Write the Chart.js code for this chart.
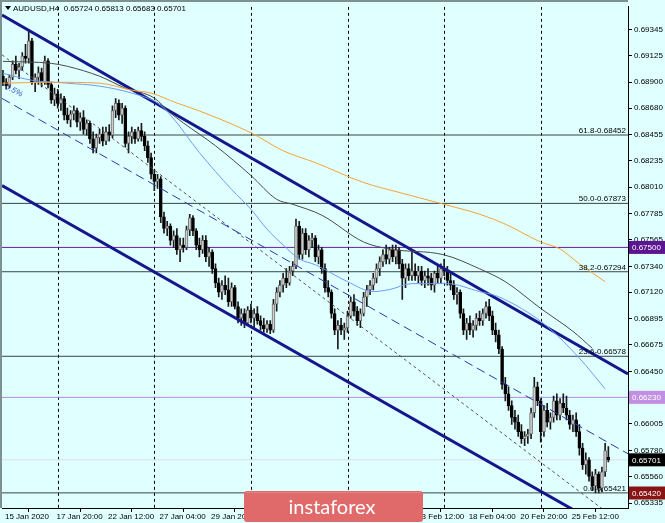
<!DOCTYPE html>
<html lang="en">
<head>
<meta charset="UTF-8">
<title>AUDUSD H4</title>
<script src="https://cdn.jsdelivr.net/npm/chart.js"></script>
<style>
    body { margin: 0; background: #e0ffff; overflow: hidden; }
    canvas { display: block; }
</style>
</head>
<body>
<canvas id="chart" width="665" height="523"></canvas>
<script>
// H4 bars, index 0 = 15 Jan 2020 04:00, last = 27 Feb 2020 12:00
const opens = [
    .6895,.6890,.6887,.6894,.6905,.6900,.6903,.6912,.6910,.6925,
    .6890,.6894,.6898,.6890,.6908,.6888,.6875,.6880,.6872,.6876,
    .6862,.6858,.6863,.6866,.6856,.6860,.6850,.6855,.6842,.6834,
    .6843,.6846,.6840,.6848,.6845,.6866,.6872,.6862,.6868,.6838,
    .6844,.6848,.6842,.6849,.6844,.6836,.6826,.6812,.6806,.6808,
    .6776,.6766,.6768,.6756,.6760,.6748,.6752,.6750,.6765,.6775,
    .6764,.6752,.6748,.6756,.6742,.6746,.6732,.6720,.6712,.6718,
    .6714,.6704,.6716,.6700,.6690,.6694,.6686,.6697,.6690,.6694,
    .6688,.6684,.6681,.6685,.6680,.6702,.6712,.6718,.6724,.6720,
    .6730,.6734,.6768,.6744,.6762,.6748,.6756,.6758,.6742,.6748,
    .6732,.6716,.6712,.6694,.6680,.6684,.6680,.6682,.6692,.6704,
    .6696,.6688,.6694,.6708,.6714,.6718,.6724,.6732,.6738,.6744,
    .6740,.6748,.6742,.6748,.6736,.6724,.6732,.6726,.6730,.6726,
    .6730,.6722,.6726,.6724,.6718,.6728,.6724,.6732,.6730,.6722,
    .6718,.6710,.6712,.6694,.6680,.6686,.6680,.6684,.6690,.6688,
    .6694,.6700,.6692,.6680,.6676,.6664,.6634,.6626,.6616,.6606,
    .6602,.6594,.6588,.6590,.6592,.6610,.6632,.6620,.6594,.6612,
    .6602,.6606,.6620,.6608,.6618,.6614,.6608,.6600,.6604,.6594,
    .6580,.6566,.6570,.6556,.6548,.6558,.6546,.6560,.65724
];
const highs = [
    .6900,.6893,.6896,.6908,.6912,.6906,.6915,.6922,.6934,.6927,
    .6897,.6903,.6902,.6912,.6910,.6890,.6885,.6884,.6880,.6878,
    .6868,.6866,.6870,.6868,.6864,.6866,.6858,.6857,.6848,.6846,
    .6850,.6852,.6852,.6854,.6870,.6876,.6875,.6872,.6870,.6848,
    .6852,.6850,.6852,.6855,.6848,.6840,.6830,.6816,.6812,.6810,
    .6780,.6772,.6770,.6764,.6766,.6758,.6758,.6768,.6778,.6777,
    .6766,.6758,.6760,.6760,.6750,.6748,.6736,.6724,.6722,.6726,
    .6724,.6720,.6718,.6704,.6698,.6698,.6700,.6702,.6698,.6700,
    .6692,.6690,.6688,.6688,.6706,.6716,.6722,.6728,.6732,.6734,
    .6738,.6774,.6772,.6766,.6766,.6760,.6762,.6760,.6752,.6750,
    .6736,.6722,.6714,.6698,.6688,.6690,.6686,.6696,.6708,.6710,
    .6700,.6698,.6712,.6718,.6722,.6728,.6736,.6742,.6748,.6752,
    .6750,.6752,.6752,.6750,.6740,.6736,.6736,.6746,.6736,.6734,
    .6734,.6730,.6732,.6728,.6730,.6734,.6736,.6740,.6734,.6728,
    .6722,.6716,.6714,.6698,.6690,.6692,.6688,.6694,.6696,.6698,
    .6704,.6706,.6696,.6686,.6680,.6666,.6640,.6632,.6620,.6612,
    .6608,.6600,.6594,.6596,.6614,.6640,.6636,.6622,.6616,.6618,
    .6610,.6624,.6626,.6622,.6626,.6624,.6612,.6608,.6610,.6600,
    .6584,.6576,.6572,.6560,.6562,.6560,.6564,.6584,.65813
];
const lows = [
    .6887,.6884,.6885,.6892,.6897,.6893,.6900,.6906,.6906,.6888,
    .6882,.6888,.6886,.6888,.6885,.6872,.6870,.6868,.6866,.6858,
    .6855,.6852,.6858,.6852,.6849,.6846,.6845,.6838,.6830,.6830,
    .6838,.6836,.6837,.6840,.6843,.6860,.6858,.6855,.6835,.6830,
    .6838,.6838,.6840,.6840,.6832,.6822,.6808,.6798,.6800,.6771,
    .6762,.6760,.6752,.6750,.6744,.6738,.6746,.6748,.6760,.6760,
    .6748,.6742,.6745,.6738,.6734,.6728,.6716,.6708,.6706,.6710,
    .6700,.6700,.6698,.6686,.6684,.6682,.6684,.6686,.6682,.6685,
    .6680,.6678,.6678,.6677,.6678,.6696,.6708,.6712,.6716,.6718,
    .6726,.6732,.6740,.6740,.6744,.6742,.6750,.6738,.6736,.6728,
    .6712,.6708,.6690,.6676,.6664,.6676,.6672,.6678,.6690,.6692,
    .6684,.6682,.6692,.6700,.6710,.6714,.6720,.6726,.6734,.6736,
    .6736,.6738,.6736,.6732,.6706,.6716,.6722,.6722,.6722,.6720,
    .6718,.6716,.6718,.6714,.6712,.6720,.6720,.6726,.6718,.6714,
    .6706,.6702,.6690,.6676,.6672,.6676,.6674,.6680,.6684,.6684,
    .6690,.6688,.6676,.6670,.6660,.6630,.6620,.6612,.6600,.6596,
    .6590,.6584,.6582,.6584,.6588,.6606,.6616,.6585,.6590,.6598,
    .6596,.6602,.6604,.6604,.6610,.6604,.6596,.6594,.6590,.6574,
    .6562,.6558,.6552,.6544,.65421,.6542,.6543,.6556,.65683
];
const closes = [
    .6890,.6887,.6894,.6905,.6900,.6903,.6912,.6910,.6925,.6890,
    .6894,.6898,.6890,.6908,.6888,.6875,.6880,.6872,.6876,.6862,
    .6858,.6863,.6866,.6856,.6860,.6850,.6855,.6842,.6834,.6843,
    .6846,.6840,.6848,.6845,.6866,.6872,.6862,.6868,.6838,.6844,
    .6848,.6842,.6849,.6844,.6836,.6826,.6812,.6806,.6808,.6776,
    .6766,.6768,.6756,.6760,.6748,.6752,.6750,.6765,.6775,.6764,
    .6752,.6748,.6756,.6742,.6746,.6732,.6720,.6712,.6718,.6714,
    .6704,.6716,.6700,.6690,.6694,.6686,.6697,.6690,.6694,.6688,
    .6684,.6681,.6685,.6680,.6702,.6712,.6718,.6724,.6720,.6730,
    .6734,.6768,.6744,.6762,.6748,.6756,.6758,.6742,.6748,.6732,
    .6716,.6712,.6694,.6680,.6684,.6680,.6682,.6692,.6704,.6696,
    .6688,.6694,.6708,.6714,.6718,.6724,.6732,.6738,.6744,.6740,
    .6748,.6742,.6748,.6736,.6724,.6732,.6726,.6730,.6726,.6730,
    .6722,.6726,.6724,.6718,.6728,.6724,.6732,.6730,.6722,.6718,
    .6710,.6712,.6694,.6680,.6686,.6680,.6684,.6690,.6688,.6694,
    .6700,.6692,.6680,.6676,.6664,.6634,.6626,.6616,.6606,.6602,
    .6594,.6588,.6590,.6592,.6610,.6632,.6620,.6594,.6612,.6602,
    .6606,.6620,.6608,.6618,.6614,.6608,.6600,.6604,.6594,.6580,
    .6566,.6570,.6556,.6548,.6558,.6546,.6560,.6578,.65701
];

// moving averages, sampled off the chart (bar index -> price)
const maSlowIdx = [0, 15, 30, 40, 46, 54, 61, 77, 87, 97, 112, 123, 137, 148, 156, 167, 173, 179, 187];
const maSlowVal = [.68891, .68899, .68891, .68832, .68807, .68723, .68656, .68471, .68319, .68218,
                   .68050, .67966, .67865, .67781, .67697, .67546, .67487, .67361, .67210];
const maMidIdx = [0, 15, 20, 30, 38, 47, 52, 56, 66, 77, 85, 90, 99, 112, 120, 137, 148, 156, 167, 177, 183];
const maMidVal = [.69076, .69059, .69034, .68950, .68849, .68765, .68639, .68555, .68361, .68109, .67907,
                  .67865, .67773, .67546, .67487, .67437, .67319, .67210, .66983, .66789, .66646];
const maFastIdx = [0, 9, 20, 30, 40, 48, 52, 61, 71, 77, 82, 87, 92, 97, 107, 115, 120, 127, 138, 148,
                   153, 161, 169, 179, 187];
const maFastVal = [.68975, .68916, .68891, .68866, .68807, .68723, .68622, .68303, .67991, .67823, .67655,
                   .67521, .67403, .67353, .67210, .67126, .67143, .67193, .67193, .67126, .67092, .66983,
                   .66831, .66562, .66302];

// channel / trend lines: [startIdx, startPrice, endIdx, endPrice]
const channelTop = [-0.3, .69469, 194.1, .66428];
const channelBottom = [-0.3, .68024, 194.1, .65015];
const channelMid = [-0.3, .68762, 194.1, .65752];
const trendDotted = [-0.3, .69131, 194.1, .65121];

// fibonacci levels
const fibNames = ['61.8', '50.0', '38.2', '23.6', '0.0'];
const fibLevels = [.68452, .67873, .67294, .66578, .65421];

const levelPurple = .67500;
const levelLilac = .66230;
const lastPrice = .65701;
const lowMark = .65420;

const priceTicks = [.69345, .69125, .68900, .68680, .68455, .68235, .68010, .67785, .67565, .67340,
                    .67120, .66895, .66675, .66450, .66230, .66005, .65780, .65560, .65335];
const timeTickIdx = [0, 16, 32, 48, 64, 80, 96, 112, 128, 144, 160, 176];
const timeTickText = ['15 Jan 2020', '17 Jan 20:00', '22 Jan 12:00', '27 Jan 04:00', '29 Jan 20:00',
                      '3 Feb 12:00', '6 Feb 04:00', '10 Feb 20:00', '13 Feb 12:00', '18 Feb 04:00',
                      '20 Feb 20:00', '25 Feb 12:00'];
const weekStartIdx = [17, 47, 77, 107, 137, 167];

const header = 'AUDUSD,H4  0.65724 0.65813 0.65683 0.65701';

const FONT = '8px "Liberation Sans", Arial, sans-serif';

function pts(idx, val) {
    return idx.map((x, k) => ({x: x, y: val[k]}));
}
function seg(s) {
    return [{x: s[0], y: s[1]}, {x: s[2], y: s[3]}];
}
function isBull(i) {
    return closes[i] >= opens[i];
}

const overlay = {
    id: 'overlay',
    beforeDatasetsDraw(chart) {
        const {ctx, chartArea: a, scales: {x, y}} = chart;
        ctx.save();
        ctx.beginPath();
        ctx.rect(a.left, a.top, a.right - a.left, a.bottom - a.top);
        ctx.clip();

        // period separators
        ctx.strokeStyle = '#000';
        ctx.lineWidth = 1;
        ctx.setLineDash([3, 3]);
        weekStartIdx.forEach(i => {
            const px = Math.round(x.getPixelForValue(i)) + 0.5;
            ctx.beginPath();
            ctx.moveTo(px, a.top);
            ctx.lineTo(px, a.bottom);
            ctx.stroke();
        });
        ctx.setLineDash([]);

        const hline = (v, color, w) => {
            const py = y.getPixelForValue(v);
            ctx.strokeStyle = color;
            ctx.lineWidth = w;
            ctx.beginPath();
            ctx.moveTo(a.left, py);
            ctx.lineTo(a.right, py);
            ctx.stroke();
        };
        hline(lastPrice, '#e2d8ee', 1);
        fibLevels.forEach(v => hline(v, '#3a4444', 1));
        hline(levelPurple, '#6a1fa0', 1);
        hline(levelLilac, '#b98ade', 1);
        ctx.restore();
    },
    afterDatasetsDraw(chart) {
        const {ctx, chartArea: a, scales: {y}} = chart;
        ctx.save();
        ctx.font = FONT;
        ctx.fillStyle = '#000';
        ctx.textAlign = 'right';
        ctx.textBaseline = 'alphabetic';
        fibLevels.forEach((v, k) => {
            ctx.fillText(fibNames[k] + '-' + v.toFixed(5), a.right - 2, y.getPixelForValue(v) - 2);
        });

        // header
        ctx.textAlign = 'left';
        ctx.fillText(header, 13, 11);
        ctx.beginPath();
        ctx.moveTo(5, 6);
        ctx.lineTo(11, 6);
        ctx.lineTo(8, 10);
        ctx.closePath();
        ctx.fill();

        // channel label
        ctx.save();
        ctx.translate(5, 88);
        ctx.rotate(Math.atan(0.57));
        ctx.fillStyle = '#3048c0';
        ctx.font = 'italic ' + FONT;
        ctx.fillText('0.5%', 0, 0);
        ctx.restore();

        // frame
        ctx.fillStyle = '#7e9191';
        ctx.fillRect(0, 0, a.right, 2);
        ctx.fillRect(0, 0, 2, a.bottom);
        ctx.restore();
    },
    afterDraw(chart) {
        const {ctx, chartArea: a, scales: {y}} = chart;
        ctx.save();
        ctx.font = FONT;
        ctx.textBaseline = 'middle';
        ctx.textAlign = 'left';
        const box = (v, bg) => {
            const py = y.getPixelForValue(v);
            ctx.fillStyle = bg;
            ctx.fillRect(a.right + 1, py - 6.5, 36, 13);
            ctx.fillStyle = '#fff';
            ctx.fillText(v.toFixed(5), a.right + 4, py + 0.5);
        };
        box(levelPurple, '#5c1590');
        box(levelLilac, '#c290e2');
        box(lastPrice, '#000');
        box(lowMark, '#8a1414');

        // watermark
        ctx.fillStyle = '#e06a6a';
        ctx.beginPath();
        ctx.roundRect(244, 491, 179, 31, 3);
        ctx.fill();
        ctx.fillStyle = 'rgba(255,255,255,0.18)';
        ctx.fillRect(246, 492, 175, 1);
        ctx.fillStyle = '#fff';
        ctx.font = '20px Lato, "Open Sans", sans-serif';
        ctx.textAlign = 'center';
        ctx.textBaseline = 'alphabetic';
        ctx.fillText('instaforex', 332, 514);
        ctx.restore();
    }
};

Chart.defaults.font.family = '"Liberation Sans", Arial, sans-serif';
Chart.defaults.font.size = 8;
Chart.defaults.color = '#000';

new Chart(document.getElementById('chart'), {
    type: 'bar',
    data: {
        datasets: [
            {
                type: 'line', data: pts(maSlowIdx, maSlowVal), borderColor: '#f4a338',
                borderWidth: 1, pointRadius: 0, cubicInterpolationMode: 'monotone', order: 0
            },
            {
                type: 'line', data: pts(maMidIdx, maMidVal), borderColor: '#4a4a4a',
                borderWidth: 1, pointRadius: 0, cubicInterpolationMode: 'monotone', order: 0
            },
            {
                type: 'line', data: pts(maFastIdx, maFastVal), borderColor: '#6b9cf2',
                borderWidth: 1, pointRadius: 0, cubicInterpolationMode: 'monotone', order: 0
            },
            {
                type: 'line', data: seg(channelTop), borderColor: '#16168c',
                borderWidth: 3, pointRadius: 0, order: 0
            },
            {
                type: 'line', data: seg(channelBottom), borderColor: '#16168c',
                borderWidth: 3, pointRadius: 0, order: 0
            },
            {
                type: 'line', data: seg(channelMid), borderColor: '#2a3aa8',
                borderWidth: 1, borderDash: [9, 5], pointRadius: 0, order: 0
            },
            {
                type: 'line', data: seg(trendDotted), borderColor: '#505050',
                borderWidth: 1, borderDash: [3, 3], pointRadius: 0, order: 0
            },
            {
                label: 'body',
                data: opens.map((o, i) => ({x: i, y: [Math.min(o, closes[i]), Math.max(o, closes[i])]})),
                backgroundColor: c => isBull(c.dataIndex) ? '#cfcfcf' : '#000',
                borderColor: c => isBull(c.dataIndex) ? '#6e6e6e' : '#000',
                borderWidth: 1,
                borderSkipped: false,
                barThickness: 3,
                grouped: false,
                order: 1
            },
            {
                label: 'wick',
                data: highs.map((h, i) => ({x: i, y: [lows[i], h]})),
                backgroundColor: '#1a1a1a',
                barThickness: 1,
                grouped: false,
                order: 2
            }
        ]
    },
    options: {
        responsive: false,
        animation: false,
        devicePixelRatio: 1,
        layout: {padding: {left: 2, top: 3, right: 0, bottom: 0}},
        plugins: {legend: {display: false}, tooltip: {enabled: false}},
        events: [],
        scales: {
            x: {
                type: 'linear',
                min: -0.3,
                max: 194.1,
                offset: false,
                afterBuildTicks: s => { s.ticks = timeTickIdx.map(v => ({value: v})); },
                afterFit: s => { s.height = 15; },
                grid: {drawOnChartArea: false, color: '#000', tickLength: 4},
                border: {color: '#000'},
                ticks: {
                    autoSkip: false, maxRotation: 0, align: 'start', labelOffset: 2, padding: 0,
                    callback: (v, i) => timeTickText[i]
                }
            },
            y: {
                position: 'right',
                min: 0.65293,
                max: 0.69538,
                afterBuildTicks: s => { s.ticks = priceTicks.map(v => ({value: v})); },
                afterFit: s => { s.width = 37; },
                grid: {drawOnChartArea: false, color: '#000', tickLength: 4},
                border: {color: '#000'},
                ticks: {padding: 2, callback: v => v.toFixed(5)}
            }
        }
    },
    plugins: [overlay]
});
</script>
</body>
</html>
